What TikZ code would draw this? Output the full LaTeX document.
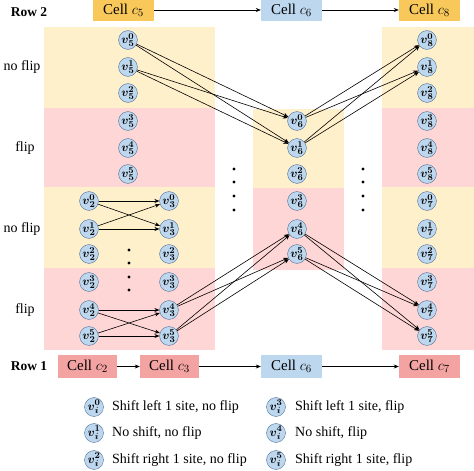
\documentclass[tikz,border=0pt]{standalone}
\usepackage{amsmath}
\usepackage{fontspec}
\setmainfont{Liberation Serif}
\usetikzlibrary{arrows.meta}
\definecolor{gold}{RGB}{248,201,90}
\definecolor{lyel}{RGB}{255,240,204}
\definecolor{lpink}{RGB}{255,214,214}
\definecolor{pinkcell}{RGB}{244,163,163}
\definecolor{bluecell}{RGB}{189,215,238}
\definecolor{nfill}{RGB}{189,215,238}
\definecolor{nborder}{RGB}{80,110,150}
\newcommand{\vv}[2]{$\boldsymbol{v}^{\hspace{-0.3pt}\boldsymbol{#1}}_{\boldsymbol{#2}}$}
\tikzset{
  vn/.style={circle,draw=nborder,fill=nfill,inner sep=0pt,minimum size=17pt,font=\fontsize{12.5}{13}\selectfont},
  cellbox/.style={rectangle,inner sep=0pt,minimum width=61pt,minimum height=21pt,font=\fontsize{15}{17}\selectfont},
  arr/.style={-{Stealth[length=5pt,width=4pt]},line width=0.6pt},
  rowlab/.style={font=\fontsize{13.5}{15}\selectfont\bfseries},
  sidelab/.style={font=\fontsize{14}{16}\selectfont},
  legtext/.style={anchor=west,font=\fontsize{14}{16}\selectfont,inner sep=0pt},
  dot/.style={circle,fill=black,inner sep=0pt,minimum size=3.2pt}
}
\begin{document}
\begin{tikzpicture}[x=1pt,y=-1pt]
\useasboundingbox (0,0) rectangle (474,471);
% bands
\fill[lyel] (44,27) rectangle (215,108);
\fill[lpink] (44,108) rectangle (215,187);
\fill[lyel] (44,187) rectangle (215,268);
\fill[lpink] (44,268) rectangle (215,350);
\fill[lyel] (253,109) rectangle (344,188);
\fill[lpink] (253,188) rectangle (344,270);
\fill[lyel] (382,27) rectangle (474,108);
\fill[lpink] (382,108) rectangle (474,187);
\fill[lyel] (382,187) rectangle (474,268);
\fill[lpink] (382,268) rectangle (474,350);
% side labels
\node[sidelab] (nf1) at (22,67) {no flip};
\node[sidelab] (f1) at (25,148) {flip};
\node[sidelab] (nf2) at (22,229) {no flip};
\node[sidelab] (f2) at (25,310) {flip};
% row 2 cells
\node[rowlab] (r2) at (29,12) {Row 2};
\node[cellbox,fill=gold] (c5) at (123.5,10) {Cell $c_5$};
\node[cellbox,fill=bluecell] (c6t) at (291.5,10) {Cell $c_6$};
\node[cellbox,fill=gold] (c8) at (429.5,10) {Cell $c_8$};
\draw[arr] (c5) -- (c6t);
\draw[arr] (c6t) -- (c8);
% row 1 cells
\node[rowlab] (r1) at (29,366) {Row 1};
\node[cellbox,fill=pinkcell,minimum width=59pt,minimum height=23pt] (c2) at (87.5,366.5) {Cell $c_2$};
\node[cellbox,fill=pinkcell,minimum width=59pt,minimum height=23pt] (c3) at (169.5,366.5) {Cell $c_3$};
\node[cellbox,fill=bluecell,minimum height=23pt] (c6b) at (291.5,366.5) {Cell $c_6$};
\node[cellbox,fill=pinkcell,minimum height=23pt] (c7) at (429.5,366.5) {Cell $c_7$};
\draw[arr] (c2) -- (c3);
\draw[arr] (c3) -- (c6b);
\draw[arr] (c6b) -- (c7);
% vertex nodes
\foreach \k/\y in {0/40,1/67,2/93,3/121,4/148,5/174}{
  \node[vn] (v5\k) at (128,\y) {\vv{\k}{5}};
  \node[vn] (v8\k) at (427,\y) {\vv{\k}{8}};
}
\foreach \k/\y in {0/201,1/229,2/254,3/282,4/310,5/336}{
  \node[vn] (v2\k) at (89,\y) {\vv{\k}{2}};
  \node[vn] (v3\k) at (169,\y) {\vv{\k}{3}};
  \node[vn] (v7\k) at (427,\y) {\vv{\k}{7}};
}
\foreach \k/\y in {0/121,1/148,2/174,3/201,4/229,5/254}{
  \node[vn] (v6\k) at (297,\y) {\vv{\k}{6}};
}
% dots
\foreach \y/\i in {250/a,263/b,277/c,290/d}{\node[dot] (dl\i) at (129,\y) {};}
\foreach \y/\i in {169/a,182/b,196/c,210/d}{
  \node[dot] (dm\i) at (234,\y) {};
  \node[dot] (dr\i) at (363,\y) {};
}
% edges
\foreach \a/\b in {v50/v60,v50/v61,v51/v60,v51/v61,
                   v60/v80,v60/v81,v61/v80,v61/v81,
                   v20/v30,v20/v31,v21/v30,v21/v31,
                   v24/v34,v24/v35,v25/v34,v25/v35,
                   v34/v64,v34/v65,v35/v64,v35/v65,
                   v64/v74,v64/v75,v65/v74,v65/v75}{
  \draw[arr] (\a) -- (\b);
}
% legend
\node[vn] (l0) at (94,407) {\vv{0}{i}};
\node[vn] (l1) at (94,433) {\vv{1}{i}};
\node[vn] (l2) at (94,460) {\vv{2}{i}};
\node[vn] (l3) at (276,407) {\vv{3}{i}};
\node[vn] (l4) at (276,433) {\vv{4}{i}};
\node[vn] (l5) at (276,460) {\vv{5}{i}};
\node[legtext] (t0) at (112,407) {Shift left 1 site, no flip};
\node[legtext] (t1) at (112,433) {No shift, no flip};
\node[legtext] (t2) at (112,460) {Shift right 1 site, no flip};
\node[legtext] (t3) at (295,407) {Shift left 1 site, flip};
\node[legtext] (t4) at (295,433) {No shift, flip};
\node[legtext] (t5) at (295,460) {Shift right 1 site, flip};
\end{tikzpicture}
\end{document}
